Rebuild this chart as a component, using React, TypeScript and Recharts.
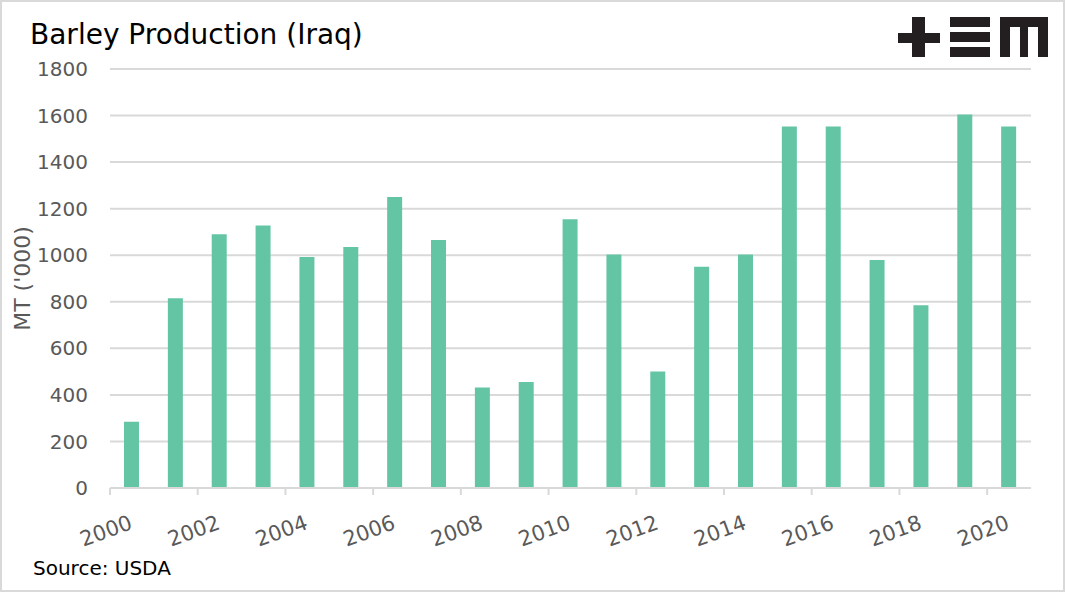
import React from 'react';
import { BarChart, Bar, XAxis, YAxis, CartesianGrid } from 'recharts';

const years = [
  '2000', '2001', '2002', '2003', '2004', '2005', '2006', '2007', '2008', '2009', '2010',
  '2011', '2012', '2013', '2014', '2015', '2016', '2017', '2018', '2019', '2020',
];
const production = [
  285, 815, 1090, 1128, 992, 1035, 1250, 1065, 432, 455, 1155,
  1003, 500, 950, 1003, 1553, 1553, 980, 785, 1605, 1553,
];
const yTicks = [0, 200, 400, 600, 800, 1000, 1200, 1400, 1600, 1800];

const data = years.map((year, i) => ({ year, value: production[i] }));

const W = 1065;
const H = 592;
const MARGIN = { top: 69, right: 34, bottom: 44, left: 0 };
const Y_AXIS_W = 110;
const HALF_BAND = (W - MARGIN.right - Y_AXIS_W) / years.length / 2;
const FONT = '"DejaVu Sans", Verdana, sans-serif';
const GRID = '#d9d9d9';
const TEXT = '#595959';

function YearTick(props: any) {
  const { x, y, payload } = props;
  const edge = x - HALF_BAND;
  return (
    <g>
      <line x1={edge} x2={edge} y1={y} y2={y + 7} stroke={GRID} strokeWidth={2} />
      <text
        x={0}
        y={0}
        transform={`translate(${edge - 4}, ${y + 43}) rotate(-20)`}
        textAnchor="middle"
        dominantBaseline="central"
        fill={TEXT}
        fontSize={21}
        fontFamily={FONT}
      >
        {payload.value}
      </text>
    </g>
  );
}

function Logo() {
  const c = '#231f20';
  return (
    <svg width={W} height={H} style={{ position: 'absolute', left: 0, top: 0, pointerEvents: 'none' }}>
      {/* plus */}
      <rect x={898} y={33} width={42} height={10} fill={c} />
      <rect x={912} y={17} width={13} height={40} fill={c} />
      {/* three bars */}
      <rect x={950} y={17} width={40} height={10} fill={c} />
      <rect x={950} y={32} width={40} height={10} fill={c} />
      <rect x={950} y={47} width={40} height={10} fill={c} />
      {/* m */}
      <rect x={1000} y={17} width={48} height={10} fill={c} />
      <rect x={1000} y={17} width={10} height={40} fill={c} />
      <rect x={1020} y={17} width={8} height={40} fill={c} />
      <rect x={1038} y={17} width={10} height={40} fill={c} />
    </svg>
  );
}

export default function App() {
  return (
    <div style={{ position: 'absolute', left: 0, top: 0, width: W, height: H, background: '#fff', fontFamily: FONT }}>
      <BarChart width={W} height={H} data={data} margin={MARGIN}>
        <CartesianGrid vertical={false} stroke={GRID} strokeWidth={2} />
        <XAxis
          dataKey="year"
          interval={1}
          tickLine={false}
          tickSize={0}
          tickMargin={0}
          axisLine={{ stroke: GRID, strokeWidth: 2 }}
          tick={<YearTick />}
          height={60}
        />
        <YAxis
          domain={[0, 1800]}
          ticks={yTicks}
          width={Y_AXIS_W}
          axisLine={false}
          tickLine={false}
          tickSize={6}
          tickMargin={16}
          tick={{ fill: TEXT, fontSize: 20, fontFamily: FONT }}
          label={{
            value: "MT ('000)",
            angle: -90,
            position: 'insideLeft',
            dx: 17,
            style: { textAnchor: 'middle', fill: TEXT, fontSize: 22, fontFamily: FONT },
          }}
        />
        <Bar dataKey="value" fill="#64c5a5" barSize={15} isAnimationActive={false} />
      </BarChart>
      <div style={{ position: 'absolute', left: 30, top: 18, fontSize: 28, lineHeight: '34px', color: '#000', whiteSpace: 'nowrap' }}>
        Barley Production (Iraq)
      </div>
      <div style={{ position: 'absolute', left: 33, top: 555, fontSize: 20, lineHeight: '26px', color: '#000', whiteSpace: 'nowrap' }}>
        Source: USDA
      </div>
      <Logo />
      <div style={{ position: 'absolute', left: 0, top: 0, width: W, height: H, boxSizing: 'border-box', border: `2px solid ${GRID}`, pointerEvents: 'none' }} />
    </div>
  );
}
